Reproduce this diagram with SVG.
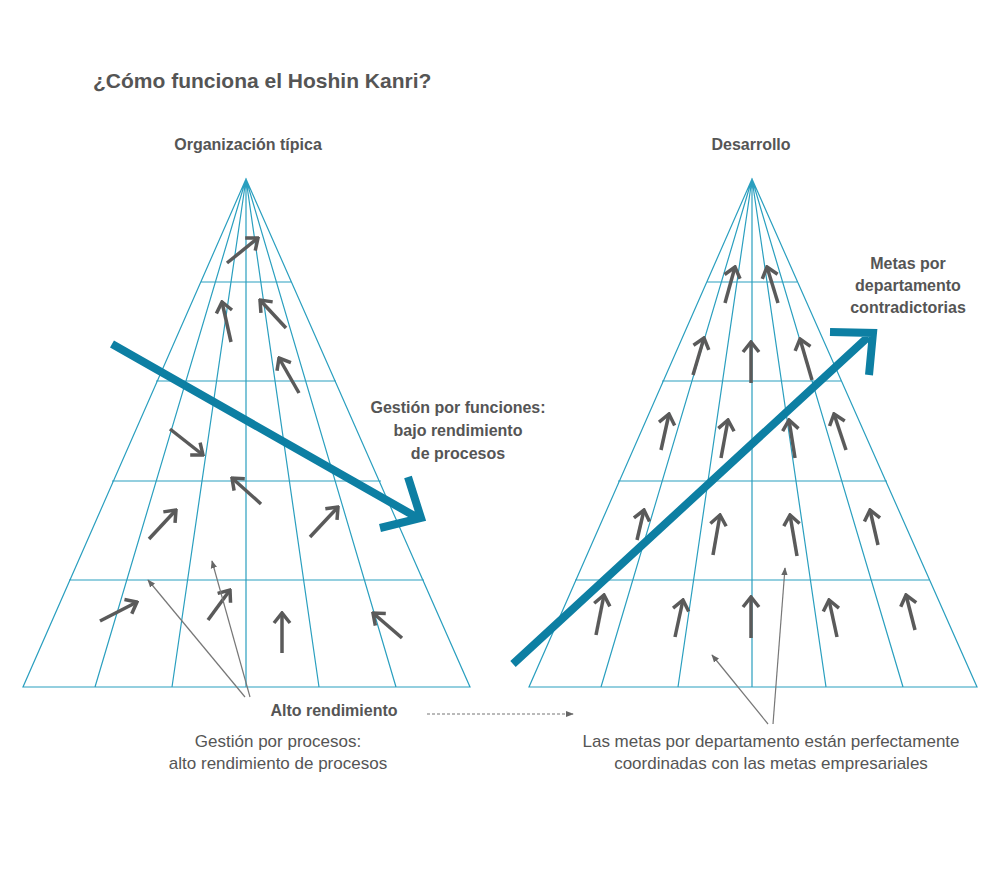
<svg xmlns="http://www.w3.org/2000/svg" width="1000" height="875" viewBox="0 0 1000 875">
<style>
.g{fill:none;stroke:#2a9fbf;stroke-width:1.2}
.a path{fill:none;stroke:#5a5a5a;stroke-width:3.5;marker-end:url(#v)}
.b{fill:none;stroke:#0d7fa3;stroke-width:8}
.c{fill:none;stroke:#777;stroke-width:1.2}
text{font-family:"Liberation Sans",Arial,sans-serif;fill:#555}
.t{font-weight:bold;font-size:16px}
.n{font-size:17px}
</style>
<defs>
<marker id="m" viewBox="0 0 10 10" refX="9" refY="5" markerWidth="8" markerHeight="8" markerUnits="userSpaceOnUse" orient="auto"><path d="M0,1L10,5L0,9z" fill="#666"/></marker>
<marker id="v" viewBox="-12 -10 14 20" refX="0" refY="0" markerWidth="14" markerHeight="20" markerUnits="userSpaceOnUse" orient="auto"><path d="M-10,-8L0,0L-10,8" fill="none" stroke="#5a5a5a" stroke-width="3.5"/></marker>
</defs>
<rect width="1000" height="875" fill="#fff"/>
<text x="93" y="88" font-size="21" font-weight="bold">¿Cómo funciona el Hoshin Kanri?</text>
<g id="pyr-left">
<path class="g" d="M246,179L23,687H470ZM246,179L95,687M246,179L172,687M246,179V687M246,179L319,687M246,179L396,687M201,282H291M156,381H336M112,481H381M69,580H424"/>
<text class="t" x="248" y="150" text-anchor="middle">Organización típica</text>
</g>
<g id="pyr-right">
<path class="g" d="M752,179L529,687H977ZM752,179L601,687M752,179L678,687M752,179V687M752,179L826,687M752,179L903,687M707,282H797M662,381H842M618,481H887M575,580H930"/>
<text class="t" x="751" y="150" text-anchor="middle">Desarrollo</text>
</g>
<g id="arrows-left" class="a">
<path d="M227,263L258,238"/><path d="M231,342L222,302"/><path d="M286,328L260,300"/><path d="M299,393L279,358"/><path d="M170,429L203,455"/><path d="M261,504L232,478"/><path d="M149,539L176,510"/><path d="M310,537L338,507"/><path d="M100,621L137,602"/><path d="M208,620L230,590"/><path d="M282,653V613"/><path d="M402,638L373,613"/>
</g>
<g id="arrows-right" class="a">
<path d="M725,303L735,267"/><path d="M778,303L767,267"/><path d="M693,375L704,338"/><path d="M751,383V342"/><path d="M812,380L800,339"/><path d="M661,450L669,414"/><path d="M721,458L728,420"/><path d="M795,458L789,420"/><path d="M846,450L834,414"/><path d="M637,540L644,510"/><path d="M713,555L720,515"/><path d="M797,556L790,515"/><path d="M878,545L870,510"/><path d="M596,635L604,595"/><path d="M675,637L683,600"/><path d="M751,638V597"/><path d="M837,637L829,600"/><path d="M915,630L906,595"/>
</g>
<g id="connectors">
<path class="b" d="M112,344L418,518M408,477L421,518L380,528"/>
<path class="b" d="M513,664L868,337M830,332L873,333L869,375"/>
<path class="c" marker-end="url(#m)" d="M245,697L148,580"/>
<path class="c" marker-end="url(#m)" d="M250,697L212,561"/>
<path class="c" marker-end="url(#m)" d="M768,724L712,655"/>
<path class="c" marker-end="url(#m)" d="M773,724L785,568"/>
<path class="c" stroke-dasharray="3,2" marker-end="url(#m)" d="M427,714H573"/>
</g>
<g id="labels">
<text class="t" x="458" y="413" text-anchor="middle">Gestión por funciones:</text>
<text class="t" x="458" y="436" text-anchor="middle">bajo rendimiento</text>
<text class="t" x="458" y="459" text-anchor="middle">de procesos</text>
<text class="t" x="908" y="269" text-anchor="middle">Metas por</text>
<text class="t" x="908" y="291" text-anchor="middle">departamento</text>
<text class="t" x="908" y="313" text-anchor="middle">contradictorias</text>
<text class="t" x="334" y="716" text-anchor="middle">Alto rendimiento</text>
<text class="n" x="278" y="747" text-anchor="middle">Gestión por procesos:</text>
<text class="n" x="278" y="769" text-anchor="middle">alto rendimiento de procesos</text>
<text class="n" x="771" y="747" text-anchor="middle">Las metas por departamento están perfectamente</text>
<text class="n" x="771" y="769" text-anchor="middle">coordinadas con las metas empresariales</text>
</g>
</svg>
